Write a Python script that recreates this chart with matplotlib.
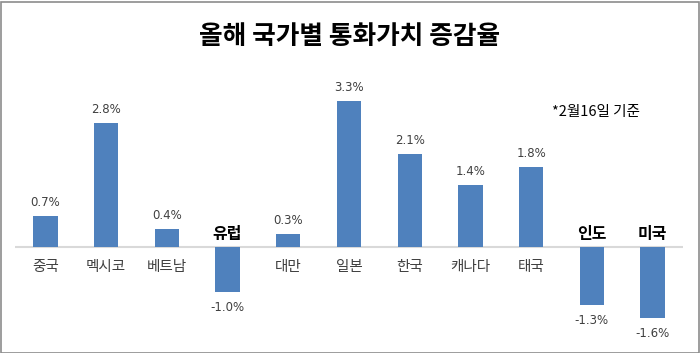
import matplotlib
matplotlib.use("Agg")
from matplotlib import pyplot as plt
from matplotlib.patches import Rectangle

plt.rcParams['font.family'] = ['Noto Sans CJK KR', 'DejaVu Sans']

countries = ["중국", "멕시코", "베트남", "유럽", "대만", "일본", "한국", "캐나다", "태국", "인도", "미국"]
changes = [0.7, 2.8, 0.4, -1.0, 0.3, 3.3, 2.1, 1.4, 1.8, -1.3, -1.6]
title = "올해 국가별 통화가치 증감율"
note = "*2월16일 기준"

W, H = 700, 353
fig = plt.figure(figsize=(W / 100, H / 100), dpi=100)
fig.patches.append(Rectangle((0.5 / W, 0.5 / H), 1 - 2 / W, 1 - 2 / H,
                             transform=fig.transFigure, fill=False,
                             edgecolor="#8c8c8c", lw=1.2))

ax = fig.add_axes([15 / W, 17 / H, 668 / W, 242 / H])
x = list(range(len(countries)))
ax.bar(x, changes, width=0.4, color="#4f81bd", zorder=2)
ax.axhline(0, color="#d9d9d9", lw=1.5, zorder=1)
ax.set_xlim(-0.5, len(countries) - 0.5)
ax.set_ylim(-2.0, 3.45)
ax.axis("off")

for xi, name, v in zip(x, countries, changes):
    lab = "{:.1f}%".format(v)
    if v >= 0:
        ax.annotate(lab, (xi, v), xytext=(0, 7), textcoords="offset pixels",
                    ha="center", va="bottom", fontsize=8.5, color="#404040",
                    family=["DejaVu Sans"])
        ax.annotate(name, (xi, 0), xytext=(0, -20), textcoords="offset pixels",
                    ha="center", va="center", fontsize=10.5, color="#404040")
    else:
        ax.annotate(lab, (xi, v), xytext=(0, -9), textcoords="offset pixels",
                    ha="center", va="top", fontsize=8.5, color="#404040",
                    family=["DejaVu Sans"])
        ax.annotate(name, (xi, 0), xytext=(0, 13), textcoords="offset pixels",
                    ha="center", va="center", fontsize=11.5, color="black",
                    fontweight="bold")

fig.text(0.5, 1 - 36 / H, title, ha="center", va="center", fontsize=18.5,
         fontweight="bold", color="black")
fig.text(596 / W, 1 - 112 / H, note, ha="center", va="center", fontsize=10.5,
         color="black")

fig.savefig("out.png", dpi=100)
